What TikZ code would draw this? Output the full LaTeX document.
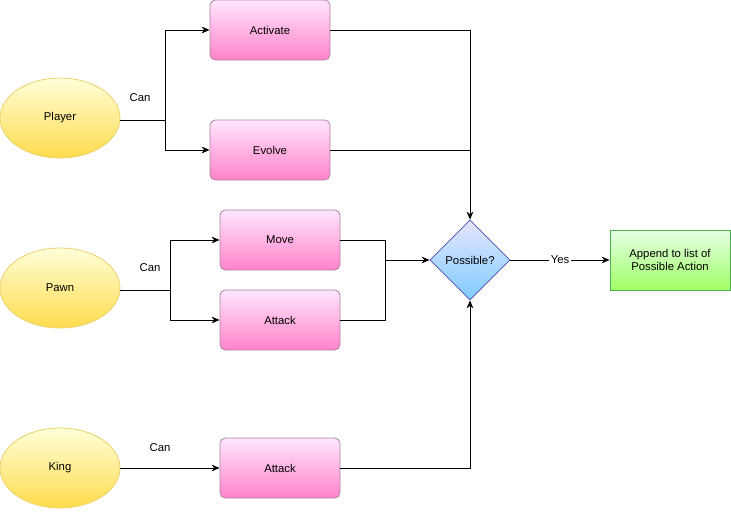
\documentclass[tikz,border=0pt]{standalone}
\usepackage{fontspec}
\setmainfont{Liberation Sans}
\usetikzlibrary{shapes.geometric,arrows.meta}
\begin{document}
\begin{tikzpicture}[x=0.75pt,y=-0.75pt,font=\fontsize{8.5}{10}\selectfont,
  ell/.style={ellipse,draw=yellow!50!brown!70!white,top color=yellow!15,bottom color=yellow!60!orange!70,minimum width=90pt,minimum height=60pt,line width=0.6pt},
  box/.style={rectangle,rounded corners=4pt,draw=magenta!40!black!60,top color=magenta!10!white,bottom color=magenta!50!pink!80!red!70,minimum width=90pt,minimum height=45pt,line width=0.6pt},
  dia/.style={diamond,aspect=1,draw=blue!40!gray,top color=blue!10,bottom color=blue!40!cyan!50,minimum width=60pt,minimum height=60pt,inner sep=0pt,line width=0.6pt},
  gbox/.style={rectangle,draw=green!40!gray,top color=green!10,bottom color=green!50!lime!60,minimum width=90pt,minimum height=45pt,align=center,line width=0.6pt},
  con/.style={line width=0.6pt,-{Stealth[length=6pt,width=5pt]}},
  ln/.style={line width=0.6pt}]
\useasboundingbox (0,0) rectangle (731,511);
\node[ell] (player) at (60,118) {Player};
\node[ell] (pawn) at (60,288) {Pawn};
\node[ell] (king) at (60,468) {King};
\node[box] (act) at (270,30) {Activate};
\node[box] (evo) at (270,150) {Evolve};
\node[box] (move) at (280,240) {Move};
\node[box] (att) at (280,320) {Attack};
\node[box] (katt) at (280,468) {Attack};
\node[dia] (pos) at (470,260) {Possible?};
\node[gbox] (app) at (670,260) {Append to list of\\Possible Action};
\coordinate (j1) at (165,120);
\coordinate (j2) at (170,290);
\coordinate (j3) at (385,260);
\draw[ln] (player.east |- j1) -- (j1);
\draw[con] (j1) |- (act.west);
\draw[con] (j1) |- (evo.west);
\node at (140,98) {Can};
\draw[ln] (pawn.east |- j2) -- (j2);
\draw[con] (j2) |- (move.west);
\draw[con] (j2) |- (att.west);
\node at (150,268) {Can};
\draw[con] (king.east) -- (katt.west);
\node at (160,448) {Can};
\draw[con] (act.east) -| (pos.north);
\draw[ln] (evo.east) -| (470,200);
\draw[ln] (move.east) -| (j3);
\draw[ln] (att.east) -| (j3);
\draw[con] (j3) -- (pos.west);
\draw[con] (katt.east) -| (pos.south);
\draw[con] (pos.east) -- node[fill=white,inner sep=1pt]{Yes} (app.west);
\end{tikzpicture}
\end{document}
